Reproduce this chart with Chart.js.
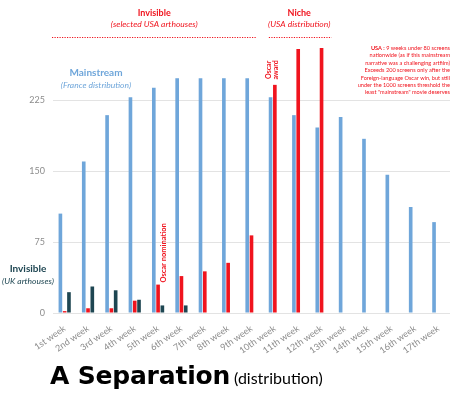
<!DOCTYPE html>
<html>
<head>
<meta charset="utf-8">
<script src="https://cdn.jsdelivr.net/npm/chart.js@4"></script>
<style>
  body { margin: 0; background: #fff; }
  #wrap { position: relative; width: 474px; height: 397px; }
  #title { position: absolute; left: 50px; top: 361px; color: #000; white-space: nowrap; }
  #title b { font-family: "DejaVu Sans", sans-serif; font-size: 25px; font-weight: bold; letter-spacing: -0.2px; }
  #title span { font-family: Lato, "Open Sans", sans-serif; font-size: 16px; }
</style>
</head>
<body>
<div id="wrap">
  <canvas id="chart" width="474" height="397"></canvas>
  <div id="title"><b>A Separation</b> <span>(distribution)</span></div>
</div>
<script>
"use strict"

// weeks on the x axis
const weeks = ["1st week", "2nd week", "3rd week", "4th week", "5th week", "6th week", "7th week", "8th week", "9th week",
    "10th week", "11th week", "12th week", "13th week", "14th week", "15th week", "16th week", "17th week"];

// screens per week
const france = [105, 160, 209, 228, 238, 248, 248, 248, 248, 228, 209, 196, 207, 184, 146, 112, 96];
const usa = [2, 5, 5, 13, 30, 39, 44, 53, 82, 241, 279, 280, null, null, null, null, null];
const uk = [22, 28, 24, 14, 8, 8, null, null, null, null, null, null, null, null, null, null, null];

const yTicks = [0, 75, 150, 225, 300];

const blue = "#6fa6da";
const red = "#f0141e";
const dark = "#1e4652";
const font = "Lato, 'Open Sans', sans-serif";

// texts drawn on top of the chart
const notes = {
    id: "notes",
    afterDraw(chart) {
        const ctx = chart.ctx;
        const x = chart.scales.x;
        const y = chart.scales.y;
        const area = chart.chartArea;
        ctx.save();

        const txt = (s, px, py, f, c, align) => {
            ctx.font = f;
            ctx.fillStyle = c;
            ctx.textAlign = align || "center";
            ctx.textBaseline = "middle";
            ctx.fillText(s, px, py);
        };

        // group headers
        const invX = (area.left + x.getPixelForValue(8)) / 2 + 2;
        const nicheX = x.getPixelForValue(10) + 1;
        txt("Invisible", invX, 13, "bold 9px " + font, red);
        txt("(selected USA arthouses)", invX, 24, "italic 8.5px " + font, red);
        txt("Niche", nicheX, 13, "bold 9px " + font, red);
        txt("(USA distribution)", nicheX, 24, "italic 8.5px " + font, red);

        // dotted lines
        ctx.strokeStyle = red;
        ctx.lineWidth = 1.2;
        ctx.setLineDash([1.2, 1.3]);
        ctx.beginPath();
        ctx.moveTo(area.left - 1, 37.5);
        ctx.lineTo(x.getPixelForValue(8) + 5, 37.5);
        ctx.moveTo(x.getPixelForValue(9) - 6, 37.5);
        ctx.lineTo(x.getPixelForValue(11) + 10, 37.5);
        ctx.stroke();
        ctx.setLineDash([]);

        // series labels
        txt("Mainstream", 96, 73, "bold 10px " + font, blue);
        txt("(France distribution)", 96, 85, "italic 8.5px " + font, blue);
        txt("Invisible", 28, 269, "bold 10px " + font, dark);
        txt("(UK arthouses)", 28, 281, "italic 8.5px " + font, dark);

        // Oscar nomination, above the 5th week USA bar
        ctx.save();
        ctx.translate(x.getPixelForValue(4) + 5, y.getPixelForValue(usa[4]) - 2);
        ctx.rotate(-Math.PI / 2);
        txt("Oscar nomination", 0, 0, "bold 7.5px " + font, red, "left");
        ctx.restore();

        // Oscar award, above the 10th week USA bar
        ctx.save();
        ctx.translate(x.getPixelForValue(9) - 3, y.getPixelForValue(usa[9]) - 15);
        ctx.rotate(-Math.PI / 2);
        txt("Oscar", 0, -3, "bold 7px " + font, red);
        txt("award", 0, 4, "bold 7px " + font, red);
        ctx.restore();

        // USA note, right aligned
        const usaNote = [
            "nationwide (as if this mainstream",
            "narrative was a challenging artfilm)",
            "Exceeds 200 screens only after the",
            "Foreign-language Oscar win, but still",
            "under the 1000 screens threshold the",
            "least \"mainstream\" movie deserves"
        ];
        const rx = area.right;
        ctx.font = "5.6px " + font;
        const first = " 9 weeks under 80 screens";
        const w1 = ctx.measureText(first).width;
        txt(first, rx, 48, "5.6px " + font, red, "right");
        txt("USA :", rx - w1, 48, "bold 5.6px " + font, red, "right");
        usaNote.forEach((s, i) => txt(s, rx, 55.5 + i * 7.4, "5.6px " + font, red, "right"));

        ctx.restore();
    }
};

new Chart(document.getElementById("chart"), {
    type: "bar",
    data: {
        labels: weeks,
        datasets: [
            { label: "France", data: france, backgroundColor: blue },
            { label: "USA", data: usa, backgroundColor: red },
            { label: "UK", data: uk, backgroundColor: dark }
        ]
    },
    options: {
        responsive: false,
        animation: false,
        categoryPercentage: 0.55,
        barPercentage: 0.85,
        layout: { padding: { top: 29, right: 24, left: 0, bottom: 0 } },
        plugins: { legend: { display: false }, tooltip: { enabled: false } },
        scales: {
            x: {
                grid: { display: false },
                border: { display: false },
                ticks: { color: "#8c8c8c", font: { family: font, size: 9 }, autoSkip: false, minRotation: 35, maxRotation: 35, padding: 2 },
                afterFit: (s) => { s.height = 84; }
            },
            y: {
                min: 0,
                max: 300,
                afterBuildTicks: (s) => { s.ticks = yTicks.map(v => ({ value: v })); },
                grid: { color: (c) => c.tick && c.tick.value === 300 ? "rgba(0,0,0,0)" : "#e3e3e3", drawTicks: false },
                border: { display: false },
                ticks: {
                    color: "#8c8c8c",
                    font: { family: font, size: 9 },
                    padding: 8,
                    callback: (v) => v === 300 ? "" : v
                },
                afterFit: (s) => { s.width = 53; }
            }
        }
    },
    plugins: [notes]
});
</script>
</body>
</html>
